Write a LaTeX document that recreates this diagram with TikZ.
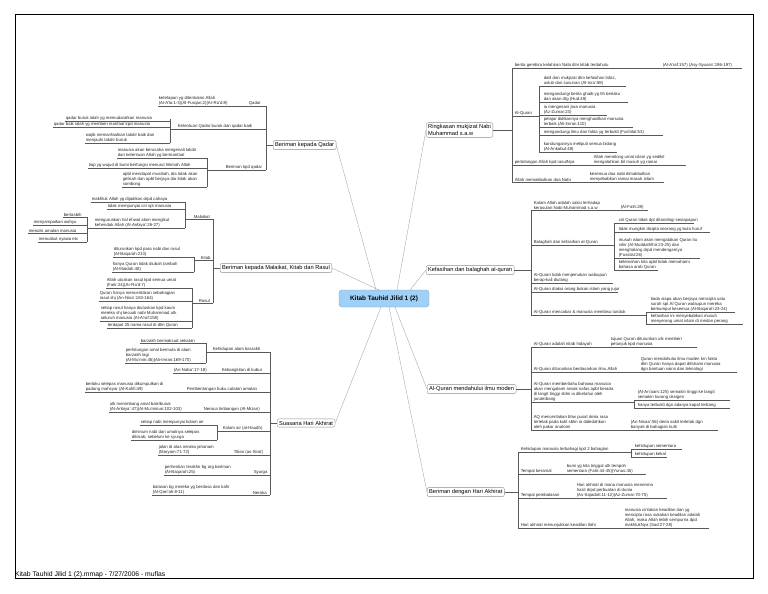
\documentclass[tikz,border=0pt]{standalone}
\usepackage{fontspec}
\setmainfont{Liberation Sans}
\definecolor{cblue}{RGB}{160,208,245}
\tikzset{
 leaf/.style={font=\fontsize{4.3}{5.1}\selectfont, inner sep=0.6pt, align=left, anchor=south west, text=black!85},
 ul/.style={draw=black!65, line width=0.35pt},
 sp/.style={draw=black!65, line width=0.35pt},
 mainbox/.style={draw=black!45, rounded corners=2pt, fill=white, font=\fontsize{5.7}{6.5}\selectfont, inner sep=2pt, align=left, anchor=west, line width=0.35pt},
 centre/.style={draw=cblue!80!black, rounded corners=3pt, fill=cblue, font=\bfseries\fontsize{6.4}{7}\selectfont, minimum width=90pt, minimum height=17pt, inner sep=1pt},
 conn/.style={draw=black!40, line width=0.3pt}
}
\newcommand\U[6]{\node[leaf] (#1) at (#2,#5) {#6}; \draw[ul] (#3,#5) -- (#4,#5);}
\newcommand\T[4]{\node[leaf] (#1) at (#2,#3) {#4};}
\newcommand\Sp[3]{\draw[sp] (#1,#2) -- (#1,#3);}
\begin{document}
\begin{tikzpicture}[x=1pt,y=-1pt]
\useasboundingbox (0,0) rectangle (768,594);
\fill[white] (0,0) rectangle (768,594);
\draw[line width=0.8pt] (15,14) rectangle (753,578);

\node[centre] (c) at (384,298.5) {Kitab Tauhid Jilid 1 (2)};

% main boxes
\node[mainbox] (qadar) at (273,145) {Beriman kepada Qadar};
\node[mainbox] (mkr) at (220,268) {Beriman kepada Malaikat, Kitab dan Rasul};
\node[mainbox] (sha) at (277,423) {Suasana Hari Akhirat};
\node[mainbox] (rgk) at (426,130) {Ringkasan mukjizat Nabi\\Muhammad s.a.w};
\node[mainbox] (kef) at (426,270) {Kefasihan dan balaghah al-quran};
\node[mainbox] (mod) at (427,389) {Al-Quran mendahului ilmu moden};
\node[mainbox] (akh) at (427,492) {Beriman dengan Hari Akhirat};

\coordinate (c1) at (376,290); \coordinate (c2) at (379,290);
\coordinate (c3) at (381,307); \coordinate (c4) at (397,290);
\coordinate (c5) at (410,290); \coordinate (c6) at (395,307);
\coordinate (c7) at (389,307);
\draw[conn] (qadar.east) -- (c1);
\draw[conn] (mkr.east) -- (c2);
\draw[conn] (sha.east) -- (c3);
\draw[conn] (rgk.west) -- (c4);
\draw[conn] (kef.west) -- (c5);
\draw[conn] (mod.west) -- (c6);
\draw[conn] (akh.west) -- (c7);

% ---- Qadar
\draw[ul] (qadar.west) -- (266,145);
\Sp{266}{106}{170}
\U{q1}{158}{158}{266}{106}{ketetapan yg ditentukan Allah\\(Al-A'la:1-3)(Al-Furqan:2)(Ar-Ra'd:8)}
\T{q1l}{248}{106}{Qadar}
\U{q2}{177}{170}{266}{129}{Ketentuan Qadar buruk dan qadar baik}
\Sp{170}{119}{143}
\U{q21}{65}{65}{170}{121}{qadar buruk ialah yg memudaratkan manusia}
\U{q22}{53}{53}{170}{127}{qadar baik ialah yg memberi manfaat kpd manusia}
\U{q23}{85}{85}{170}{143}{wajib memanfaatkan takdir baik dan\\menjauhi takdir buruk}
\U{q3}{225}{207}{266}{170}{Beriman kpd qadar}
\Sp{207}{158}{187}
\U{q31}{117}{117}{207}{158}{manusia akan berusaha mengenali takdir\\dan ketentuan Allah yg bermanfaat}
\U{q32}{88}{88}{207}{168}{tiap yg wujud di bumi berfungsi menurut hikmah Allah}
\U{q33}{122}{122}{207}{187}{apbl mendapat musibah, dia tidak akan\\gelisah dan apbl berjaya dia tidak akan\\sombong}

% ---- Malaikat Kitab Rasul
\draw[ul] (mkr.west) -- (213,268);
\Sp{213}{219}{303}
\U{m1}{193}{185}{213}{219}{Malaikat}
\Sp{185}{202}{228}
\U{m11}{91}{91}{185}{202}{makhluk Allah yg dijadikan drpd cahaya}
\U{m12}{107}{107}{185}{209}{tidak mempunyai ciri spt manusia}
\U{m13}{94}{87}{185}{228}{menguruskan hal ehwal alam mengikut\\kehendak Allah (Al-Anbiya':26-27)}
\Sp{87}{217}{242}
\U{m131}{63}{63}{87}{217}{bertasbih}
\U{m132}{33}{33}{87}{225}{menyampaikan wahyu}
\U{m133}{28}{28}{87}{233}{menulis amalan manusia}
\U{m134}{38}{38}{87}{242}{mencabut nyawa etc}
\U{m2}{200}{194}{213}{260}{Kitab}
\Sp{194}{257}{272}
\U{m21}{113}{113}{194}{257}{diturunkan kpd para nabi dan rasul\\(Al-Baqarah:213)}
\U{m22}{112}{112}{194}{272}{hanya Quran tidak diubah tambah\\(Al-Maidah:48)}
\U{m3}{198}{192}{213}{303}{Rasul}
\Sp{192}{288}{328}
\U{m31}{106}{106}{192}{288}{Allah utuskan rasul kpd semua umat\\(Fatir:24)(Ar-Ra'd:7)}
\U{m32}{99}{99}{192}{301}{Quran hanya menceritakan sebahagian\\rasul shj (An-Nisa':163-164)}
\U{m33}{100}{100}{192}{321}{setiap rasul hanya diutuskan kpd kaum\\mereka shj kecuali nabi Muhammad utk\\seluruh manusia (Al-A'raf:158)}
\U{m34}{107}{107}{192}{328}{terdapat 25 nama rasul di dlm Quran}

% ---- Suasana Hari Akhirat
\draw[ul] (sha.west) -- (270,423);
\Sp{270}{352}{495}
\U{s1}{212}{206}{270}{352}{Kehidupan alam barzakh}
\Sp{206}{343}{363}
\U{s11}{140}{140}{206}{343}{barzakh bermaksud sekatan}
\U{s12}{125}{125}{206}{363}{perhitungan amal bermula di alam\\barzakh lagi\\(Al-Mu'min:46)(Ali-Imran:169-170)}
\T{s2}{221}{373}{Kebangkitan di kubur}
\U{s21}{173}{173}{270}{373}{(An-Naba':17-18)}
\T{s3}{186}{392}{Pembentangan buku catatan amalan}
\U{s31}{85}{85}{270}{392}{berlaku selepas manusia dikumpulkan di\\padang mahsyar (Al-Kahfi:49)}
\T{s4}{203}{412}{Neraca timbangan (Al-Mizan)}
\U{s41}{109}{109}{270}{412}{utk menimbang amal baik/buruk\\(Al-Anbiya':47)(Al-Mu'minun:102-103)}
\U{s5}{222}{217}{270}{431}{Kolam air (al-Haudh)}
\Sp{217}{425}{440}
\U{s51}{140}{140}{217}{425}{setiap nabi mempunyai kolam air}
\U{s52}{131}{131}{217}{440}{diminum nabi dan umatnya selepas\\dihisab, sebelum ke syurga}
\T{s6}{233}{455}{Titian (as-Sirat)}
\U{s61}{158}{158}{270}{455}{jalan di atas neraka jahanam\\(Maryam:71-72)}
\T{s7}{253}{475}{Syurga}
\U{s71}{164}{164}{270}{475}{perhentian terakhir bg org beriman\\(Al-Baqarah:25)}
\T{s8}{252}{495}{Neraka}
\U{s81}{152}{152}{270}{495}{balasan bg mereka yg berdosa dan kafir\\(Al-Qari'ah:8-11)}

% ---- Ringkasan
\draw[ul] (rgk.east) -- (512,130);
\Sp{512}{68}{182}
\U{r1}{514}{512}{742}{68}{berita gembira kelahiran Nabi dlm kitab terdahulu}
\T{r1b}{662}{68}{(Al-A'raf:157) (Asy-Syuara':196-197)}
\U{r2}{514}{512}{539}{116}{Al-Quran}
\Sp{539}{86}{152}
\U{r21}{543}{539}{626}{86}{dalil dan mukjizat dlm kefasihan lafaz,\\uslub dan susunan (Al-Isra':88)}
\U{r22}{543}{539}{628}{102}{mengandungi berita ghaib yg tlh berlaku\\dan akan dtg (Hud:49)}
\U{r23}{543}{539}{607}{115}{ia mengesani jiwa manusia\\(Az-Zumar:23)}
\U{r24}{543}{539}{633}{127}{pelajar didikannya menghasilkan manusia\\terbaik (Ali-Imran:110)}
\U{r25}{543}{539}{663}{135}{mengandungi ilmu dan fakta yg terbukti (Fushilat:53)}
\U{r26}{543}{539}{617}{152}{kandungannya meliputi semua bidang\\(Al-Ankabut:48)}
\U{r3}{514}{512}{686}{165}{pertolongan Allah kpd rasulNya}
\T{r3b}{593}{165}{Allah menolong umat islam yg sedikit\\mengalahkan bil musuh yg ramai}
\U{r4}{514}{512}{664}{182}{Allah memakbulkan doa Nabi}
\T{r4b}{589}{182}{kesemua doa nabi dimakbulkan\\menyebabkan ramai masuk islam}

% ---- Kefasihan
\draw[ul] (kef.east) -- (531,270);
\Sp{531}{210}{315}
\U{k1}{533}{531}{648}{210}{Kalam Allah adalah saksi terhadap\\kerasulan Nabi Muhammad s.a.w}
\T{k1b}{620}{210}{(Al-Fath:28)}
\U{k2}{533}{531}{614}{245}{Balaghah dan kefasihan al-Quran}
\Sp{614}{223}{270}
\U{k21}{618}{614}{694}{223}{ciri Quran tidak dpt ditandingi sesiapapun}
\U{k22}{618}{614}{710}{232}{tidak mungkin dicipta seorang yg buta huruf}
\U{k23}{618}{614}{700}{258}{musuh islam akan mengatakan Quran itu\\sihir (Al-Muddaththir:23-25) dan\\menghalang drpd mendengarnya\\(Fussilat:26)}
\U{k24}{618}{614}{658}{270}{kelemahan kita apbl tidak memahami\\bahasa arab Quran}
\U{k3}{533}{531}{613}{283}{Al-Quran tidak menjemukan walaupun\\berap-kali diulang}
\U{k4}{533}{531}{618}{292}{Al-Quran diakui orang bukan islam yang jujur}
\U{k5}{533}{531}{646}{315}{Al-Quran mencabar \& manusia membisu tunduk}
\Sp{646}{312}{324}
\U{k51}{650}{646}{735}{312}{tiada siapa akan berjaya mencipta satu\\surah spt Al Quran walaupun mereka\\berkumpul kesemua (Al-Baqarah:23-24)}
\U{k52}{650}{646}{743}{324}{kefasihan ini menyebabkan musuh\\menyerang umat islam di medan perang}

% ---- Moden
\draw[ul] (mod.east) -- (531,389);
\Sp{531}{347}{430}
\U{d1}{533}{531}{697}{347}{Al-Quran adalah kitab hidayah}
\T{d1b}{610}{347}{tujuan Quran diturunkan utk memberi\\petunjuk kpd manusia}
\U{d2}{533}{531}{737}{372}{Al-Quran diturunkan berdasarkan ilmu Allah}
\T{d2b}{640}{372}{Quran mendahului ilmu moden krn fakta\\dlm Quran hanya dapat difahami manusia\\dgn bantuan sains dan teknologi}
\U{d3}{533}{531}{634}{402}{Al-Quran memberitahu bahawa manusia\\akan mengalami sesak nafas apbl berada\\di langit tinggi sblm ia diketahui oleh\\juruterbang}
\Sp{634}{400}{408}
\U{d31}{637}{634}{730}{400}{(Al-An'aam:125) semakin tinggi ke langit\\semakin kurang oksigen}
\U{d32}{637}{634}{730}{408}{hanya terbukti dgn adanya kapal terbang}
\U{d4}{533}{531}{718}{430}{AQ menceritakan bhw pusat deria rasa\\terletak pada kulit sblm ia didedahkan\\oleh pakar anatomi}
\T{d4b}{630}{430}{(An-Nisaa':56) deria sakit terletak dgn\\banyak di bahagian kulit}

% ---- Hari Akhirat
\draw[ul] (akh.east) -- (518,492);
\Sp{518}{452}{528}
\U{a1}{520}{518}{631}{452}{Kehidupan manusia terbahagi kpd 2 bahagian}
\Sp{631}{449}{457}
\U{a11}{634}{631}{682}{449}{kehidupan sementara}
\U{a12}{634}{631}{667}{457}{kehidupan kekal}
\U{a2}{520}{518}{646}{474}{Tempat beramal}
\T{a2b}{566}{474}{bumi yg kita tinggal utk tempoh\\sementara (Fatir:44-45)(Yunus:45)}
\U{a3}{520}{518}{667}{498}{Tempat pembalasan}
\T{a3b}{576}{498}{Hari akhirat di mana manusia menerima\\hasil drpd perbuatan di dunia\\(As-Sajadah:11-12)(Az-Zumar:70-75)}
\U{a4}{520}{518}{709}{528}{Hari akhirat menunjukkan keadilan Ilahi}
\T{a4b}{624}{528}{manusia cintakan keadilan dan yg\\mencipta rasa sukakan keadilan adalah\\Allah, maka Allah lebih sempurna dpd\\makhlukNya (Sad:27-28)}

\node[anchor=south west, inner sep=0pt, font=\fontsize{6.8}{7.5}\selectfont] (foot) at (15,578.5) {Kitab Tauhid Jilid 1 (2).mmap - 7/27/2006 - muflas};
\end{tikzpicture}
\end{document}
